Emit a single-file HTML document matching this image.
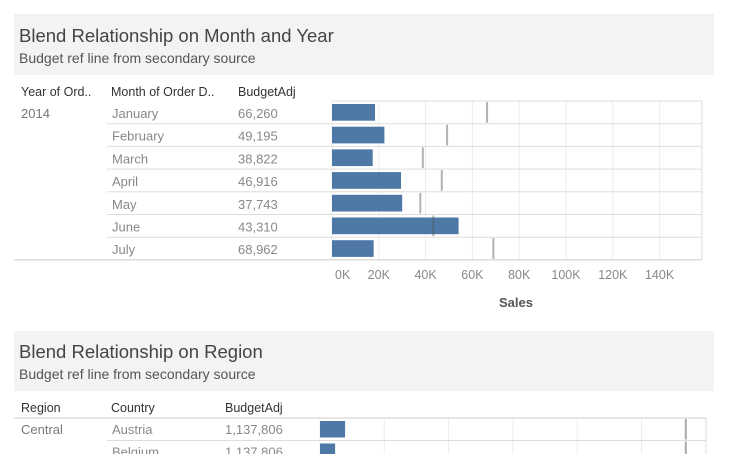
<!DOCTYPE html>
<html><head><meta charset="utf-8"><style>
body{margin:0;background:#fff;width:736px;height:454px;overflow:hidden;font-family:"Liberation Sans",sans-serif}
svg{display:block}
</style></head><body>
<svg id="c" width="736" height="454" xmlns="http://www.w3.org/2000/svg">
<rect x="14" y="14" width="700" height="61" fill="#f3f3f3"/>
<text x="19" y="42" font-size="18.5" fill="#444">Blend Relationship on Month and Year</text>
<text x="19" y="63" font-size="14" fill="#555">Budget ref line from secondary source</text>
<text x="21" y="96" font-size="12.5" fill="#333">Year of Ord..</text>
<text x="111" y="96" font-size="12.5" fill="#333">Month of Order D..</text>
<text x="238" y="96" font-size="12.5" fill="#333">BudgetAdj</text>
<text x="21" y="118" font-size="13" fill="#777">2014</text>
<rect x="14" y="331" width="700" height="60" fill="#f3f3f3"/>
<text x="19" y="358" font-size="18.5" fill="#444">Blend Relationship on Region</text>
<text x="19" y="379" font-size="14" fill="#555">Budget ref line from secondary source</text>
<text x="21" y="412" font-size="12.5" fill="#333">Region</text>
<text x="111" y="412" font-size="12.5" fill="#333">Country</text>
<text x="225" y="412" font-size="12.5" fill="#333">BudgetAdj</text>
<text x="21" y="434" font-size="13" fill="#777">Central</text>
<g id="g1"></g><g id="g2"></g>
</svg>
<script>
const months=["January","February","March","April","May","June","July"];
const budget1=[66260,49195,38822,46916,37743,43310,68962];
const sales1=[18400,22400,17400,29500,30000,54100,17800];
const ticks1=[0,20000,40000,60000,80000,100000,120000,140000];
const tickLabels1=["0K","20K","40K","60K","80K","100K","120K","140K"];
const countries=["Austria","Belgium"];
const budget2=[1137806,1137806];
const sales2=[78000,47000];
const ticks2=[0,200000,400000,600000,800000,1000000];
const NS="http://www.w3.org/2000/svg";
function mk(p,t,a,txt){const e=document.createElementNS(NS,t);for(const k in a)e.setAttribute(k,a[k]);if(txt!=null)e.textContent=txt;p.appendChild(e);return e;}
const fmt=v=>v.toLocaleString("en-US");
// chart 1
const g1=document.getElementById("g1");
const x1=v=>332+v*(46.8/20000);
const top1=101,rh1=22.7,right1=702;
ticks1.forEach((t,i)=>{
 const l=mk(g1,"line",{x1:x1(t),x2:x1(t),y1:top1,y2:top1+rh1*7,stroke:"#ececec"});
 
 
 const tx=mk(g1,"text",{x:i===0?x1(t)+3:x1(t),y:279,"font-size":12.5,fill:"#888","text-anchor":i===0?"start":"middle"},tickLabels1[i]);
 
 
});
mk(g1,"line",{x1:14,x2:right1,y1:top1+rh1*7,y2:top1+rh1*7,stroke:"#ccc"});
mk(g1,"line",{x1:right1,x2:right1,y1:top1,y2:top1+rh1*7,stroke:"#ddd"});
mk(g1,"line",{x1:332,x2:right1,y1:top1,y2:top1,stroke:"#ddd"});
months.forEach((m,i)=>{
 const y=top1+i*rh1;
 if(i>0){const sl=mk(g1,"line",{x1:107,x2:right1,y1:y,y2:y,stroke:"#ddd"});}
 const a=mk(g1,"text",{x:112,y:y+17,"font-size":13,fill:"#888"},m);
 
 
 const b=mk(g1,"text",{x:238,y:y+17,"font-size":13,fill:"#888"},fmt(budget1[i]));
 
 
 const r=mk(g1,"rect",{x:x1(0),y:y+3,width:x1(sales1[i])-x1(0),height:rh1-6,fill:"#4e79a7"});
 
 
 const rl=mk(g1,"line",{x1:x1(budget1[i]),x2:x1(budget1[i]),y1:y+1,y2:y+rh1-1,stroke:"#555","stroke-opacity":0.45,"stroke-width":2});
 
 
});
const at=mk(g1,"text",{x:516,y:307,"font-size":13,fill:"#555","font-weight":"bold","text-anchor":"middle"},"Sales");


// chart 2
const g2=document.getElementById("g2");
const x2=v=>320+v*(64.3/200000);
const top2=418,rh2=22.5,right2=706;
ticks2.forEach(t=>{
 const l=mk(g2,"line",{x1:x2(t),x2:x2(t),y1:top2,y2:454,stroke:"#ececec"});
 
 
});
mk(g2,"line",{x1:14,x2:right2,y1:top2,y2:top2,stroke:"#ccc"});
mk(g2,"line",{x1:right2,x2:right2,y1:top2,y2:454,stroke:"#ddd"});
countries.forEach((c,i)=>{
 const y=top2+i*rh2;
 if(i>0){const sl=mk(g2,"line",{x1:107,x2:right2,y1:y,y2:y,stroke:"#ddd"});}
 const a=mk(g2,"text",{x:112,y:y+16,"font-size":13,fill:"#888"},c);
 
 
 const b=mk(g2,"text",{x:225,y:y+16,"font-size":13,fill:"#888"},fmt(budget2[i]));
 
 
 const r=mk(g2,"rect",{x:x2(0),y:y+3,width:x2(sales2[i])-x2(0),height:rh2-6,fill:"#4e79a7"});
 
 
 const rl=mk(g2,"line",{x1:x2(budget2[i]),x2:x2(budget2[i]),y1:y+1,y2:y+rh2-1,stroke:"#555","stroke-opacity":0.5,"stroke-width":2});
 
 
});
</script>
</body></html>
